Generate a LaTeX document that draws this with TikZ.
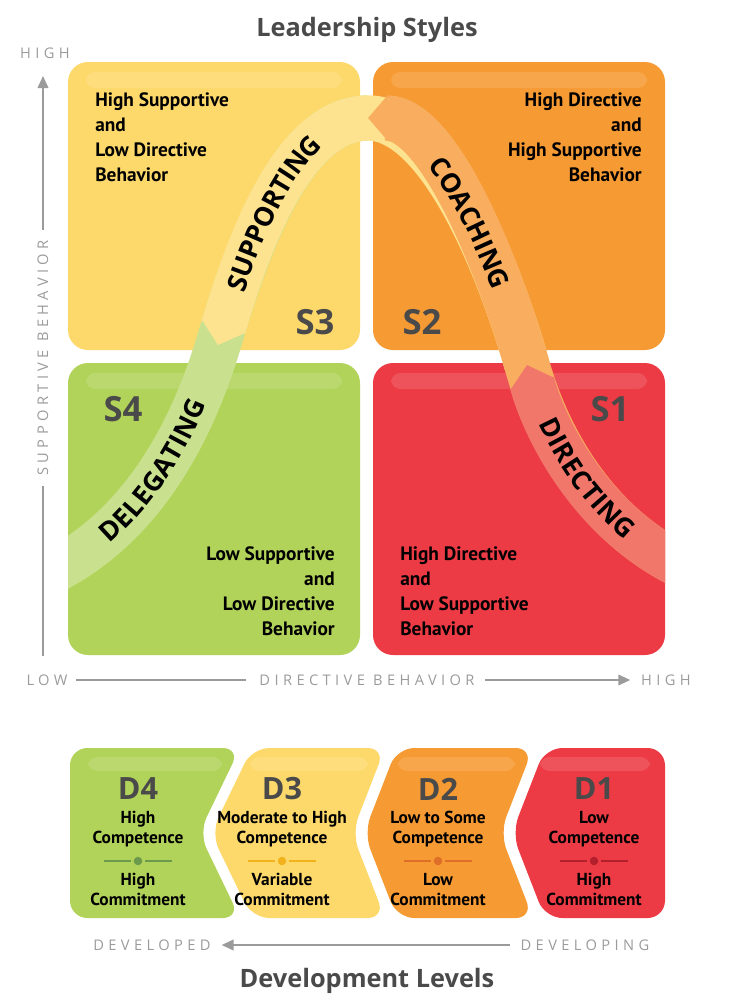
\documentclass[tikz,border=0pt]{standalone}
\usepackage{fontspec}
\setmainfont{PT Sans}
\newfontfamily\slab{Open Sans}
\newfontfamily\axisf[LetterSpace=30]{Open Sans}
\newfontfamily\bandf[LetterSpace=8]{Open Sans}
\usetikzlibrary{arrows.meta,decorations.text}
\definecolor{qY}{HTML}{FDD96B}\definecolor{qO}{HTML}{F69A34}
\definecolor{qG}{HTML}{B1D35A}\definecolor{qR}{HTML}{EC3B45}
\definecolor{bY}{HTML}{FDE390}\definecolor{bO}{HTML}{F8AE5E}
\definecolor{bG}{HTML}{C9E18E}\definecolor{bR}{HTML}{F2776B}
\definecolor{dkG}{HTML}{6C9A4C}\definecolor{dkY}{HTML}{F2B21C}
\definecolor{dkO}{HTML}{DF6E28}\definecolor{dkR}{HTML}{B41F2C}
\definecolor{txt}{HTML}{4A4A4A}\definecolor{axc}{HTML}{9B9B9B}
\begin{document}
\begin{tikzpicture}[x=0.75pt,y=-0.75pt,
  quad/.style={rounded corners=15pt},
  gloss/.style={white,opacity=0.12,rounded corners=7pt},
  band/.style={line width=34pt,line cap=butt},
  tipst/.style={{Triangle[length=15pt,width=34pt]}-},
  qtext/.style={font=\fontsize{14.5}{18.75}\selectfont\bfseries,inner sep=0pt},
  slabel/.style={font=\slab\fontsize{26}{26}\selectfont\bfseries,text=txt,inner sep=0pt},
  dlabel/.style={font=\slab\fontsize{23}{23}\selectfont\bfseries,text=txt,inner sep=0pt},
  dtext/.style={font=\fontsize{13}{15}\selectfont\bfseries,align=center,inner sep=0pt},
  axis/.style={font=\axisf\fontsize{11}{11}\selectfont,text=axc,inner sep=0pt},
  axline/.style={axc,line width=1.3pt},
  title/.style={font=\slab\fontsize{19}{19}\selectfont\bfseries,text=txt,inner sep=0pt},
  bandtxt/.style={decorate,decoration={text along path,text align=center,raise=-7pt,
     text={|\bandf\fontsize{20}{20}\selectfont\bfseries|#1}}}]
\useasboundingbox (0,0) rectangle (731,1000);
% titles
\node[title] (t1) at (367,30) {Leadership Styles};
\node[title] (t2) at (367,981) {Development Levels};
% quadrants
\fill[qY,quad] (68,62) rectangle (360,350);
\fill[qO,quad] (373,62) rectangle (665,350);
\fill[qG,quad] (68,363) rectangle (360,655);
\fill[qR,quad] (373,363) rectangle (665,655);
\foreach \x/\y in {68/62,373/62,68/363,373/363}
  \fill[gloss] (\x+18,\y+10) rectangle (\x+274,\y+26);
% band
\coordinate (P0) at (55,570);
\coordinate (c1) at (150,520); \coordinate (c2) at (195,420);
\coordinate (P1) at (218,345);
\coordinate (c3) at (245,255); \coordinate (c4) at (290,118);
\coordinate (P2) at (368,118);
\coordinate (c5) at (440,118); \coordinate (c6) at (500,270);
\coordinate (P3) at (527,365);
\coordinate (c7) at (545,430); \coordinate (c8) at (590,520);
\coordinate (P4) at (680,565);
\begin{scope}
\clip (68,62) rectangle (665,655);
\draw[band,bG] (P0) .. controls (c1) and (c2) .. (P1) .. controls (c3) and (c4) .. (P2);
\draw[band,bY,tipst] (P1) .. controls (c3) and (c4) .. (P2) .. controls (c5) and (c6) .. (P3);
\draw[band,bO,tipst] (P2) .. controls (c5) and (c6) .. (P3) .. controls (c7) and (c8) .. (P4);
\draw[band,bR,tipst] (P3) .. controls (c7) and (c8) .. (P4);
\end{scope}
\path[bandtxt=DELEGATING] (P0) .. controls (c1) and (c2) .. (P1);
\path[bandtxt=SUPPORTING] (P1) .. controls (c3) and (c4) .. (P2);
\path[bandtxt=COACHING] (P2) .. controls (c5) and (c6) .. (P3);
\path[bandtxt=DIRECTING] (P3) .. controls (c7) and (c8) .. (P4);
% quadrant texts
\node[qtext,anchor=north west,align=left] (q3) at (95,92) {High Supportive\\and\\Low Directive\\Behavior};
\node[qtext,anchor=north east,align=right] (q2) at (642,92) {High Directive\\and\\High Supportive\\Behavior};
\node[qtext,anchor=south east,align=right] (q4) at (335,636) {Low Supportive\\and\\Low Directive\\Behavior};
\node[qtext,anchor=south west,align=left] (q1) at (400,636) {High Directive\\and\\Low Supportive\\Behavior};
\node[slabel] (s3) at (315,322) {S3};
\node[slabel] (s2) at (422,322) {S2};
\node[slabel] (s4) at (123,409) {S4};
\node[slabel] (s1) at (610,409) {S1};
% axes
\node[axis] (hi) at (45,53) {HIGH};
\node[axis,rotate=90] (sb) at (43,358) {SUPPORTIVE BEHAVIOR};
\coordinate (vt) at (43,76);
\draw[axline,-{Triangle[length=9pt,width=8pt]}] (sb.east) ++(0,-10) -- (vt);
\coordinate (vb) at (43,656);
\draw[axline] (sb.west) ++(0,10) -- (vb);
\node[axis] (lo) at (47,680) {LOW};
\node[axis] (db) at (367,680) {DIRECTIVE BEHAVIOR};
\node[axis] (hi2) at (666,680) {HIGH};
\draw[axline] (lo.east) ++(8,0) -- ([xshift=-10]db.west);
\draw[axline,-{Triangle[length=9pt,width=8pt]}] ([xshift=8]db.east) -- ([xshift=-8]hi2.west);
% D boxes
\begin{scope}[rounded corners=13pt]
\fill[qG] (70,918) -- (70,748) -- (240,748) -- (199,833) -- (240,918) -- cycle;
\fill[qY] (252,918) -- (211,833) -- (252,748) -- (385,748) -- (352,833) -- (385,918) -- cycle;
\fill[qO] (397,918) -- (364,833) -- (397,748) -- (533,748) -- (500,833) -- (533,918) -- cycle;
\fill[qR] (545,918) -- (512,833) -- (545,748) -- (665,748) -- (665,918) -- cycle;
\end{scope}
\foreach \a/\b in {88/222,250/368,398/515,540/650}
  \fill[gloss] (\a,757) rectangle (\b,771);
\foreach \n/\x/\c/\ta/\tb in {4/138/dkG/{High\\Competence}/{High\\Commitment},
  3/282/dkY/{Moderate to High\\Competence}/{Variable\\Commitment},
  2/438/dkO/{Low to Some\\Competence}/{Low\\Commitment},
  1/594/dkR/{Low\\Competence}/{High\\Commitment}}{
  \node[dlabel] (d\n) at (\x,789) {D\n};
  \node[dtext,anchor=north] (da\n) at (\x,811) {\ta};
  \node[dtext,anchor=north] (db\n) at (\x,873) {\tb};
  \fill[\c] (\x,861) circle (3.2pt);
  \draw[\c,line width=1pt] (\x-34,861) -- (\x-7,861) (\x+7,861) -- (\x+34,861);
}
\node[axis] (dev) at (152,945) {DEVELOPED};
\node[axis] (dvg) at (585,945) {DEVELOPING};
\draw[axline,-{Triangle[length=9pt,width=8pt]}] ([xshift=-8]dvg.west) -- ([xshift=8]dev.east);
\end{tikzpicture}
\end{document}
